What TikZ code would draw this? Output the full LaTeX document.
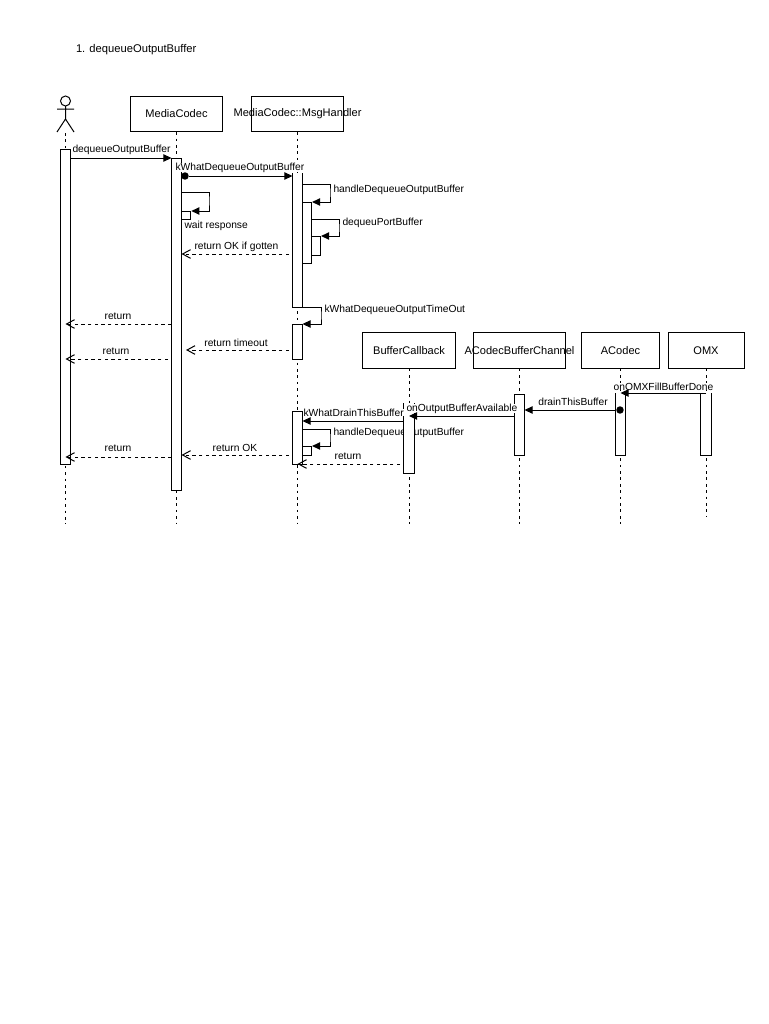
\documentclass[tikz,border=0pt]{standalone}
\usepackage{fontspec}
\setmainfont{Liberation Sans}
\usetikzlibrary{arrows.meta, positioning}

\newcommand{\headtext}[1]{\makebox[0pt]{\raisebox{-1pt}{#1}}}

\tikzset{
	headbox/.style={draw, minimum width=69.5pt, minimum height=26.5pt, inner sep=0pt, font=\fontsize{8.3pt}{10pt}\selectfont},
	bar/.style={draw, fill=white, minimum width=6.8pt, inner sep=0pt, anchor=north},
	openbar/.style={bar, draw=none},
	lifeline/.style={dash pattern=on 2pt off 2.8pt},
	msg/.style={-{Triangle[length=6pt, width=5.5pt]}},
	ret/.style={dash pattern=on 2.6pt off 2.4pt, -{Straight Barb[length=6pt, width=6.5pt]}},
	dot/.style={circle, fill=black, inner sep=0pt, minimum size=5.6pt},
	lbl/.style={inner sep=0pt, yshift=-1.1pt},
	onlbl/.style={lbl, fill=white},
}

\begin{document}
\begin{tikzpicture}[x=0.75pt, y=-0.75pt, line width=0.75pt, font=\fontsize{7.7pt}{10pt}\selectfont]
	\useasboundingbox (0,0) rectangle (768,1024);
	\node[lbl, anchor=west, font=\fontsize{8.4pt}{10pt}\selectfont] (title) at (75.5,48) {1. dequeueOutputBuffer};

	% heads
	\coordinate (user) at (65.5,133);
	\draw (65.5,101) circle (5);
	\draw (65.5,106) -- (65.5,119) (57,109) -- (74,109) (57,132) -- (65.5,119) -- (74,132);
	\node[headbox] (codec) at (176.5,114) {\headtext{MediaCodec}};
	\node[headbox] (handler) at (297.5,114) {\headtext{MediaCodec::MsgHandler}};
	\node[headbox] (callback) at (409,350.5) {\headtext{BufferCallback}};
	\node[headbox] (channel) at (519.5,350.5) {\headtext{ACodecBufferChannel}};
	\node[headbox, minimum width=58pt] (acodec) at (620.5,350.5) {\headtext{ACodec}};
	\node[headbox, minimum width=57pt] (omx) at (706,350.5) {\headtext{OMX}};

	% lifelines
	\coordinate (userend) at (65.5,524);
	\coordinate (codecend) at (176.5,524);
	\coordinate (handlerend) at (297.5,524);
	\coordinate (callbackend) at (409,524);
	\coordinate (channelend) at (519.5,524);
	\coordinate (acodecend) at (620.5,524);
	\coordinate (omxend) at (706,517);
	\draw[lifeline] (user) -- (userend);
	\draw[lifeline] (codec) -- (codecend);
	\draw[lifeline] (handler) -- (handlerend);
	\draw[lifeline] (callback) -- (callbackend);
	\draw[lifeline] (channel) -- (channelend);
	\draw[lifeline] (acodec) -- (acodecend);
	\draw[lifeline] (omx) -- (omxend);

	% bars
	\node[bar, minimum height=236pt] (userbar) at (65.5,149) {};
	\node[bar, minimum height=249pt] (codecbar) at (176.5,158) {};
	\node[bar, minimum width=7pt, minimum height=6pt, anchor=north west] (waitbar) at (181,211) {};
	\node[openbar, minimum height=100pt] (handlerbar) at (297.5,173) {};
	\draw (handlerbar.north west) |- (handlerbar.south east) -- (handlerbar.north east);
	\node[bar, minimum height=46pt, anchor=north west] (portbar) at (302,202) {};
	\node[bar, minimum height=14pt, anchor=north west] (portsub) at (311,236) {};
	\node[bar, minimum height=26pt] (timeoutbar) at (297.5,324) {};
	\node[bar, minimum height=40pt] (drainbar) at (297.5,411) {};
	\node[bar, minimum height=7pt, anchor=north west] (drainsub) at (302,446) {};

	% self calls
	\coordinate (waitr) at (209,200);
	\coordinate (handler1) at (330,192);
	\coordinate (handler2) at (339,228);
	\coordinate (handler3) at (321,315);
	\coordinate (handler4) at (330,438);
	\draw[msg] (codecbar.east |- 0,192) -| (waitr) |- (waitbar.north east);
	\draw[msg] (302,184) -| (handler1) |- (portbar.north east);
	\draw[msg] (portbar.east |- 0,219) -| (handler2) |- (portsub.north east);
	\draw[msg] (handlerbar.south east) -| (handler3) |- (timeoutbar.north east);
	\draw[msg] (drainbar.east |- 0,429) -| (handler4) |- (drainsub.north east);

	% labels
	\node[lbl, anchor=west] (l1) at (72,148) {dequeueOutputBuffer};
	\node[onlbl, anchor=west] (l2) at (175,166) {kWhatDequeueOutputBuffer};
	\node[lbl, anchor=west] (l3) at (184,224) {wait response};
	\node[lbl, anchor=west] (l4) at (194,245) {return OK if gotten};
	\node[lbl, anchor=west] (l5) at (333,188) {handleDequeueOutputBuffer};
	\node[lbl, anchor=west] (l6) at (342,221) {dequeuPortBuffer};
	\node[lbl, anchor=west] (l7) at (324,308) {kWhatDequeueOutputTimeOut};
	\node[lbl] (l8) at (118,314.5) {return};
	\node[lbl] (l9) at (236,341) {return timeout};
	\node[lbl] (l10) at (116,350) {return};
	\node[lbl] (l11) at (118,447) {return};
	\node[lbl] (l12) at (235,446) {return OK};
	\node[lbl, anchor=west] (l13) at (333,431.5) {handleDequeueOutputBuffer};
	\node[lbl] (l14) at (348,454.5) {return};

	% later bars sit on top of the labels
	\node[openbar, minimum height=52pt] (callbackbar) at (409,403) {};
	\draw (callbackbar.north west) |- (callbackbar.south east) -- (callbackbar.north east);
	\node[bar, minimum height=45.7pt] (channelbar) at (519.5,394) {};
	\node[openbar, minimum height=46pt] (acodecbar) at (620.5,393) {};
	\draw (acodecbar.north west) |- (acodecbar.south east) -- (acodecbar.north east);
	\node[openbar, minimum height=46pt] (omxbar) at (706,393) {};
	\draw (omxbar.north west) |- (omxbar.south east) -- (omxbar.north east);

	\node[onlbl, anchor=west] (l15) at (303,411) {kWhatDrainThisBuffer};
	\node[onlbl, anchor=west] (l16) at (406,407) {onOutputBufferAvailable};
	\node[lbl] (l17) at (573,400.5) {drainThisBuffer};
	\node[onlbl] (l18) at (663.5,385) {onOMXFillBufferDone};

	% messages
	\draw[msg] (userbar.east |- 0,158) -- (codecbar.west |- 0,158);
	\node[dot] (d1) at (185,176) {};
	\draw[msg] (d1) -- (handlerbar.west |- 0,176);
	\draw[ret] (289,254) -- (codecbar.east |- 0,254);
	\draw[ret] (codecbar.west |- 0,324) -- (userbar |- 0,324);
	\draw[ret] (289,350) -- (186,350);
	\draw[ret] (168,359) -- (userbar |- 0,359);
	\draw[ret] (289,455) -- (codecbar.east |- 0,455);
	\draw[ret] (codecbar.west |- 0,457) -- (userbar |- 0,457);
	\draw[msg] (callbackbar.west |- 0,421) -- (drainbar.east |- 0,421);
	\draw[ret] (400,464) -- (drainbar |- 0,464);
	\draw[msg] (channelbar.west |- 0,416) -- (callbackbar |- 0,416);
	\node[dot] (d2) at (620,410) {};
	\draw[msg] (d2) -- (channelbar.east |- 0,410);
	\draw[msg] (omxbar |- 0,393) -- (acodecbar |- 0,393);
\end{tikzpicture}
\end{document}
